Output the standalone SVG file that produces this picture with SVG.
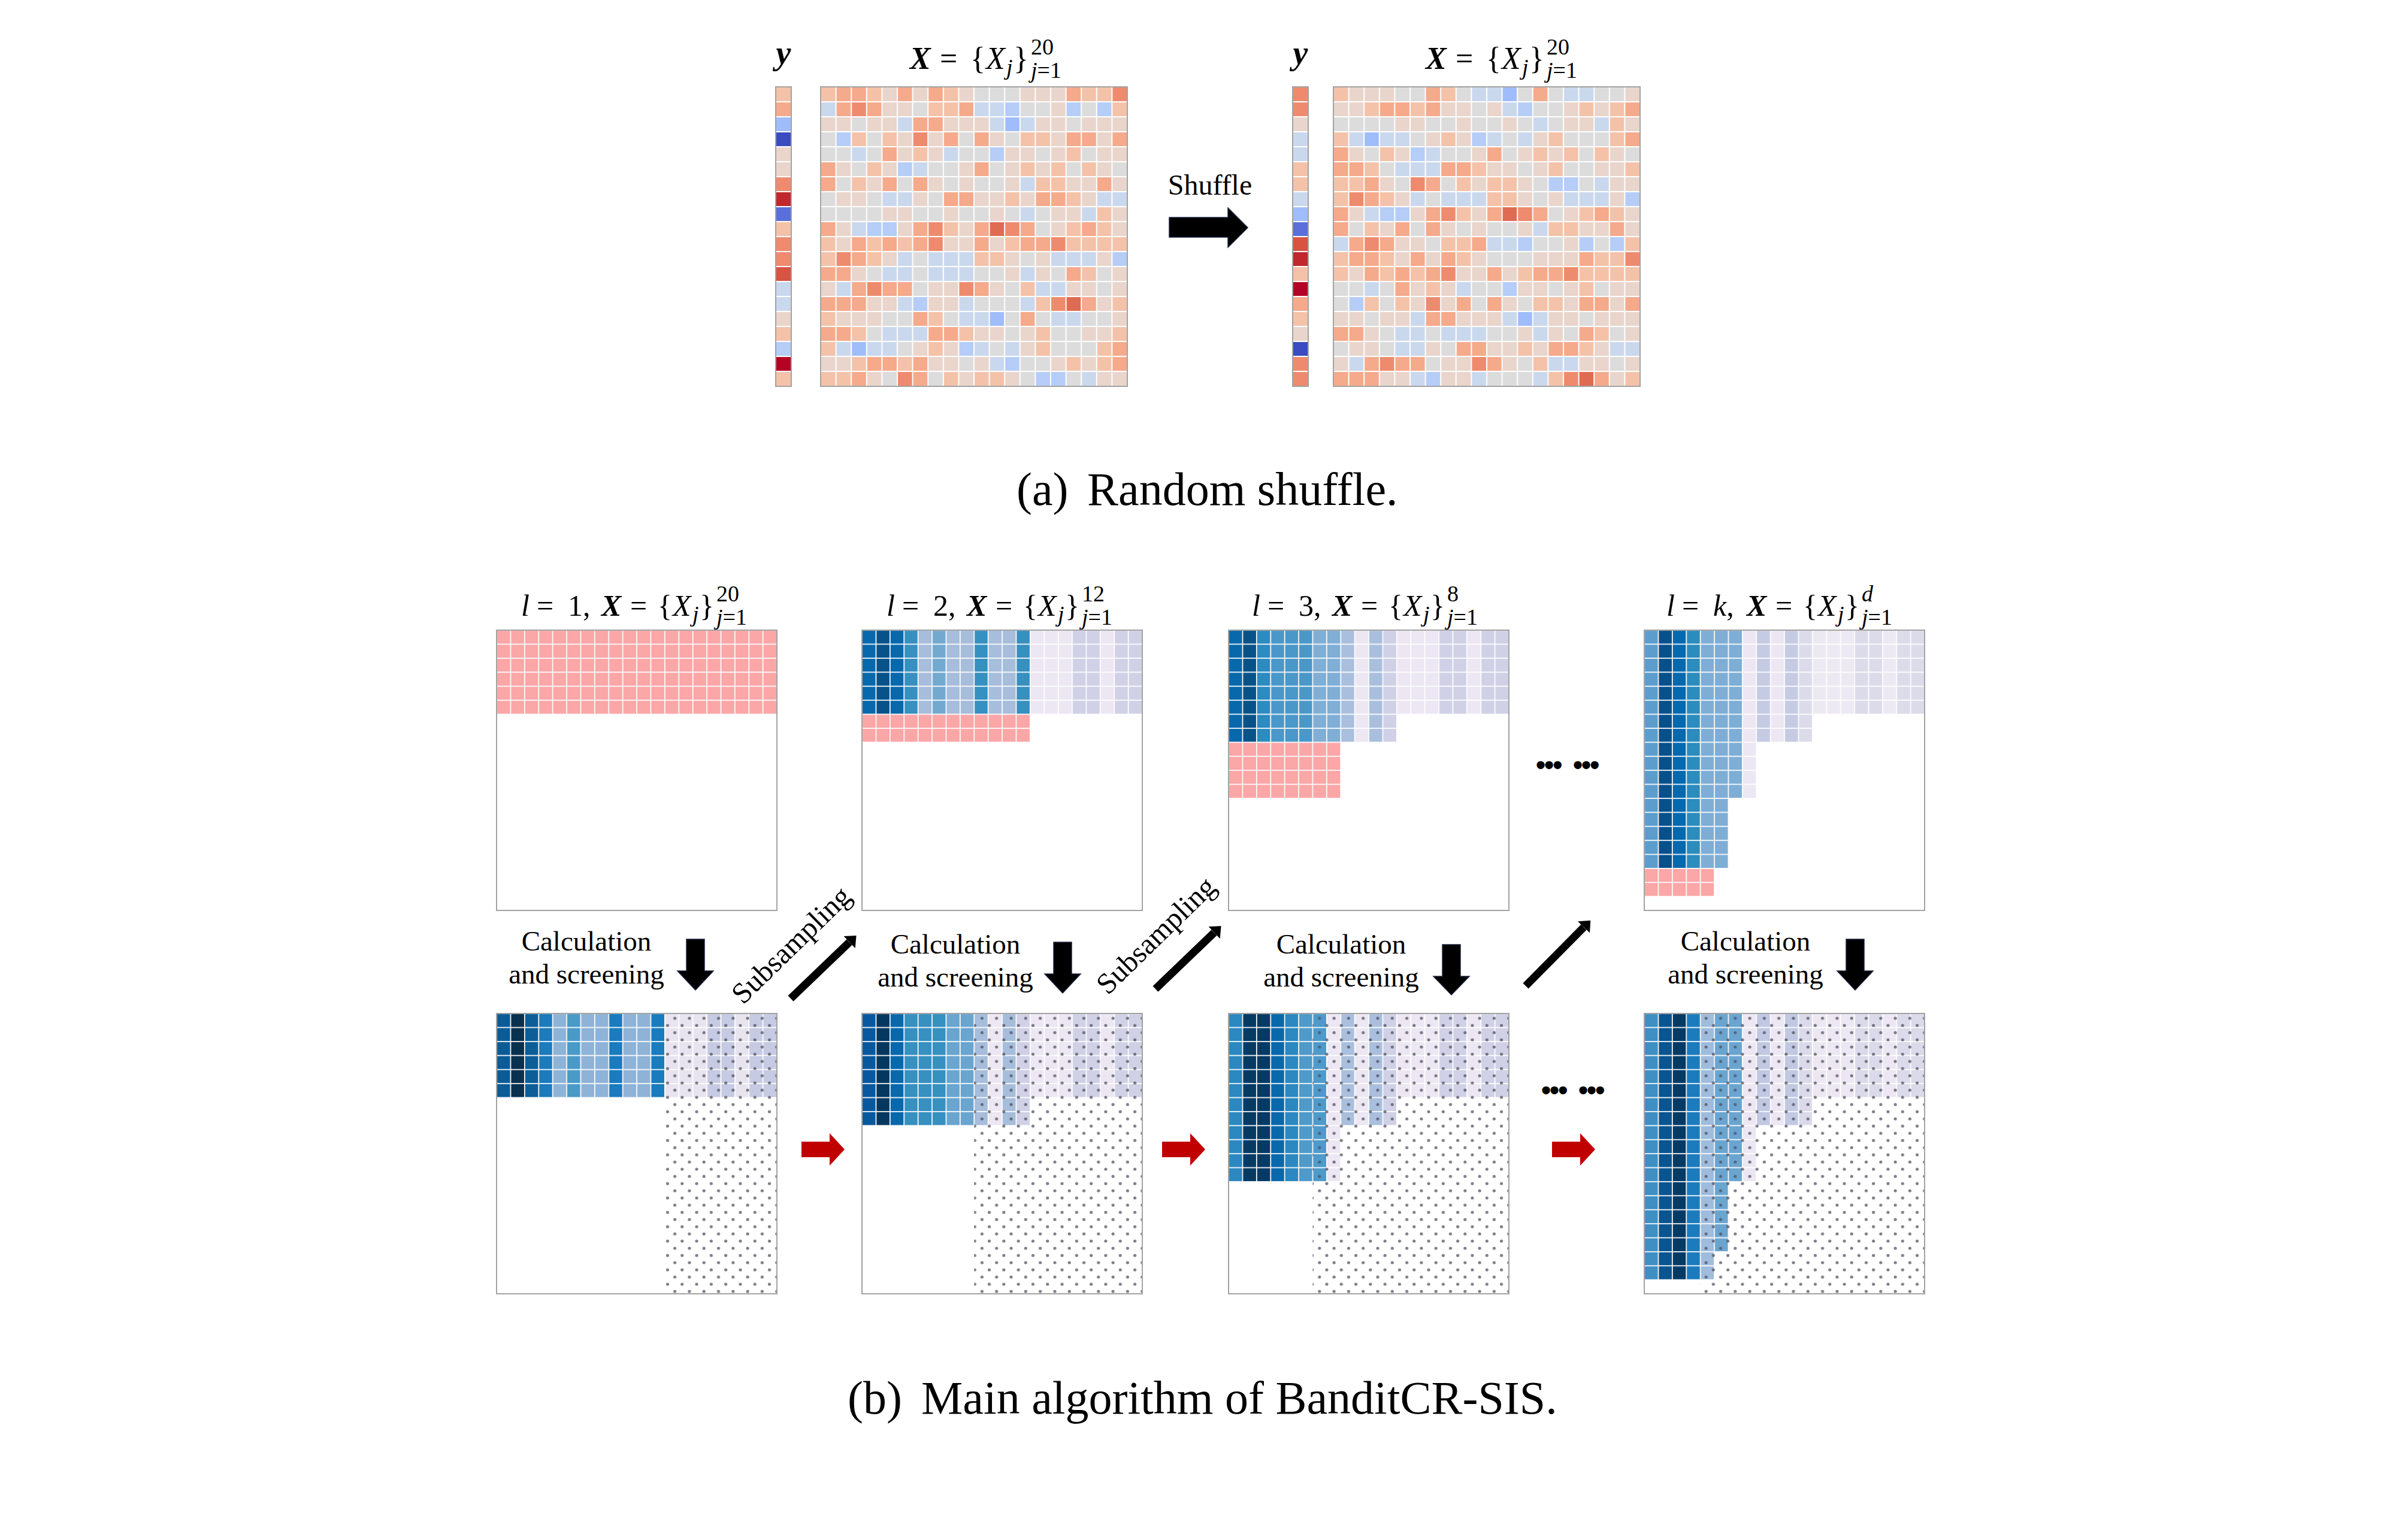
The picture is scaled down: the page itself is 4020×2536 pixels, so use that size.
<svg xmlns="http://www.w3.org/2000/svg" xmlns:xlink="http://www.w3.org/1999/xlink" width="4020" height="2536" viewBox="0 0 4020 2536">
<style>
text{font-family:"Liberation Serif","Times New Roman",serif;fill:#000}
.ma{font-size:52px}
.mb{font-size:50px}
.it{font-style:italic}
.bi{font-style:italic;font-weight:bold}
.sm{font-size:38px}
.calc{font-size:47px;text-anchor:middle}
.cap{font-size:78px}
.dots{font-family:"Liberation Sans",Arial,sans-serif;font-weight:bold;font-size:46px;letter-spacing:-2px}
.frame{fill:none;stroke:#a3a3a3;stroke-width:2}
.dn{fill:#000;stroke:#1b2440;stroke-width:1.5}
.red{fill:#c00000}
.diag{stroke:#000;stroke-width:13;fill:none;marker-end:url(#ah)}
.p,.s,.t,.o,.r,.l,.m,.b,.yb,.yr,.yd,.ye,.yx{width:1px;height:1px}
.p{fill:#f4c2a9}.s{fill:#f5aa8b}.t{fill:#e9d5cb}.o{fill:#ee8b6e}.r{fill:#e06b53}
.l{fill:#cad8ee}.m{fill:#b5cdf7}.b{fill:#9fbdfa}
.yb{fill:#3b4cc0}.yr{fill:#c0282d}.yd{fill:#5a6fd9}.ye{fill:#d75442}.yx{fill:#b40426}
.pk{fill:#fba6a7}.v1{fill:#ece7f2}.v2{fill:#d0d1e6}
</style>
<defs>
<pattern id="gA" patternUnits="userSpaceOnUse" x="-1" y="-1" width="25.6" height="25"><rect width="25.6" height="2" fill="#fff"/><rect width="2" height="25" fill="#fff"/></pattern>
<pattern id="gH" patternUnits="userSpaceOnUse" x="0" y="-1" width="26" height="25"><rect width="26" height="2" fill="#fff"/></pattern>
<pattern id="grid" patternUnits="userSpaceOnUse" x="-0.85" y="-0.85" width="23.4" height="23.4"><rect width="23.4" height="1.7" fill="#fff"/><rect width="1.7" height="23.4" fill="#fff"/></pattern>
<pattern id="dots" patternUnits="userSpaceOnUse" width="24.3" height="24" x="0" y="0"><circle cx="6" cy="8" r="2.6" fill="#4e4e5c" fill-opacity="0.72"/><circle cx="18.15" cy="20" r="2.6" fill="#4e4e5c" fill-opacity="0.72"/></pattern>
<marker id="ah" markerUnits="userSpaceOnUse" markerWidth="17" markerHeight="30" viewBox="0 -15 17 30" refX="0" refY="0" orient="auto"><path d="M0,-14L16,0L0,14Z" fill="#000"/></marker>
<g id="r0"><rect class="p"/><rect x="1" class="s"/><rect x="2" class="s"/><rect x="3" class="p"/><rect x="4" class="t"/><rect x="5" class="s"/><rect x="6" class="t"/><rect x="7" class="s"/><rect x="8" class="p"/><rect x="9" class="t"/><rect x="13" class="t"/><rect x="14" class="t"/><rect x="15" class="t"/><rect x="16" class="s"/><rect x="17" class="p"/><rect x="18" class="p"/><rect x="19" class="o"/></g>
<g id="r1"><rect class="l"/><rect x="1" class="s"/><rect x="2" class="o"/><rect x="3" class="s"/><rect x="4" class="t"/><rect x="5" class="t"/><rect x="7" class="p"/><rect x="8" class="p"/><rect x="9" class="s"/><rect x="10" class="l"/><rect x="11" class="l"/><rect x="12" class="m"/><rect x="15" class="t"/><rect x="16" class="m"/><rect x="18" class="m"/><rect x="19" class="p"/></g>
<g id="r2"><rect class="t"/><rect x="1" class="t"/><rect x="3" class="t"/><rect x="4" class="t"/><rect x="5" class="l"/><rect x="6" class="s"/><rect x="7" class="s"/><rect x="8" class="t"/><rect x="9" class="t"/><rect x="10" class="t"/><rect x="11" class="l"/><rect x="12" class="b"/><rect x="13" class="l"/><rect x="14" class="t"/><rect x="15" class="t"/><rect x="17" class="t"/><rect x="18" class="t"/><rect x="19" class="t"/></g>
<g id="r3"><rect x="1" class="m"/><rect x="2" class="p"/><rect x="4" class="p"/><rect x="5" class="t"/><rect x="6" class="o"/><rect x="7" class="t"/><rect x="8" class="s"/><rect x="10" class="s"/><rect x="11" class="t"/><rect x="13" class="p"/><rect x="14" class="p"/><rect x="15" class="t"/><rect x="16" class="s"/><rect x="17" class="s"/><rect x="18" class="t"/><rect x="19" class="s"/></g>
<g id="r4"><rect x="2" class="l"/><rect x="4" class="s"/><rect x="5" class="t"/><rect x="6" class="p"/><rect x="7" class="t"/><rect x="8" class="l"/><rect x="11" class="m"/><rect x="12" class="t"/><rect x="13" class="t"/><rect x="15" class="t"/><rect x="16" class="p"/><rect x="18" class="t"/><rect x="19" class="t"/></g>
<g id="r5"><rect class="s"/><rect x="1" class="t"/><rect x="3" class="p"/><rect x="4" class="t"/><rect x="5" class="m"/><rect x="6" class="l"/><rect x="9" class="t"/><rect x="10" class="s"/><rect x="12" class="t"/><rect x="13" class="p"/><rect x="14" class="t"/><rect x="15" class="p"/><rect x="17" class="p"/><rect x="18" class="t"/></g>
<g id="r6"><rect class="s"/><rect x="2" class="p"/><rect x="3" class="t"/><rect x="4" class="s"/><rect x="6" class="s"/><rect x="7" class="t"/><rect x="9" class="t"/><rect x="12" class="t"/><rect x="13" class="l"/><rect x="14" class="p"/><rect x="15" class="p"/><rect x="16" class="t"/><rect x="17" class="t"/><rect x="18" class="s"/><rect x="19" class="t"/></g>
<g id="r7"><rect x="1" class="t"/><rect x="2" class="t"/><rect x="4" class="l"/><rect x="5" class="l"/><rect x="6" class="t"/><rect x="8" class="s"/><rect x="9" class="s"/><rect x="10" class="t"/><rect x="11" class="t"/><rect x="12" class="p"/><rect x="13" class="t"/><rect x="14" class="s"/><rect x="15" class="s"/><rect x="16" class="p"/><rect x="17" class="t"/><rect x="18" class="l"/><rect x="19" class="l"/></g>
<g id="r8"><rect x="4" class="t"/><rect x="5" class="t"/><rect x="8" class="t"/><rect x="11" class="t"/><rect x="13" class="l"/><rect x="15" class="t"/><rect x="16" class="t"/><rect x="17" class="l"/><rect x="18" class="p"/><rect x="19" class="t"/></g>
<g id="r9"><rect class="s"/><rect x="1" class="t"/><rect x="2" class="l"/><rect x="3" class="m"/><rect x="4" class="m"/><rect x="5" class="t"/><rect x="6" class="s"/><rect x="7" class="o"/><rect x="8" class="p"/><rect x="9" class="t"/><rect x="10" class="s"/><rect x="11" class="r"/><rect x="12" class="o"/><rect x="13" class="s"/><rect x="15" class="t"/><rect x="16" class="p"/><rect x="17" class="s"/><rect x="18" class="p"/><rect x="19" class="t"/></g>
<g id="r10"><rect class="p"/><rect x="1" class="t"/><rect x="2" class="s"/><rect x="3" class="p"/><rect x="4" class="s"/><rect x="5" class="p"/><rect x="6" class="s"/><rect x="7" class="o"/><rect x="8" class="t"/><rect x="9" class="t"/><rect x="10" class="s"/><rect x="11" class="t"/><rect x="12" class="p"/><rect x="13" class="s"/><rect x="14" class="s"/><rect x="15" class="o"/><rect x="16" class="p"/><rect x="17" class="p"/><rect x="18" class="p"/><rect x="19" class="p"/></g>
<g id="r11"><rect class="p"/><rect x="1" class="o"/><rect x="2" class="s"/><rect x="3" class="p"/><rect x="4" class="t"/><rect x="5" class="l"/><rect x="7" class="l"/><rect x="8" class="l"/><rect x="9" class="l"/><rect x="10" class="p"/><rect x="11" class="p"/><rect x="12" class="t"/><rect x="14" class="t"/><rect x="15" class="l"/><rect x="16" class="l"/><rect x="17" class="l"/><rect x="18" class="t"/><rect x="19" class="m"/></g>
<g id="r12"><rect class="s"/><rect x="1" class="s"/><rect x="2" class="t"/><rect x="4" class="l"/><rect x="5" class="l"/><rect x="7" class="l"/><rect x="8" class="l"/><rect x="9" class="l"/><rect x="12" class="t"/><rect x="13" class="l"/><rect x="14" class="t"/><rect x="16" class="s"/><rect x="17" class="p"/><rect x="19" class="t"/></g>
<g id="r13"><rect class="t"/><rect x="1" class="l"/><rect x="2" class="s"/><rect x="3" class="o"/><rect x="4" class="s"/><rect x="5" class="s"/><rect x="7" class="t"/><rect x="8" class="t"/><rect x="9" class="o"/><rect x="10" class="s"/><rect x="11" class="t"/><rect x="13" class="p"/><rect x="14" class="l"/><rect x="15" class="l"/><rect x="16" class="t"/><rect x="17" class="t"/><rect x="19" class="t"/></g>
<g id="r14"><rect class="s"/><rect x="1" class="s"/><rect x="2" class="s"/><rect x="3" class="t"/><rect x="4" class="t"/><rect x="5" class="l"/><rect x="6" class="m"/><rect x="7" class="t"/><rect x="8" class="t"/><rect x="9" class="l"/><rect x="13" class="l"/><rect x="14" class="p"/><rect x="15" class="o"/><rect x="16" class="r"/><rect x="17" class="s"/><rect x="18" class="t"/><rect x="19" class="p"/></g>
<g id="r15"><rect class="p"/><rect x="1" class="t"/><rect x="2" class="t"/><rect x="3" class="t"/><rect x="6" class="s"/><rect x="7" class="p"/><rect x="9" class="l"/><rect x="10" class="l"/><rect x="11" class="b"/><rect x="13" class="s"/><rect x="15" class="l"/><rect x="16" class="l"/><rect x="19" class="t"/></g>
<g id="r16"><rect class="s"/><rect x="1" class="s"/><rect x="2" class="p"/><rect x="4" class="l"/><rect x="5" class="l"/><rect x="6" class="l"/><rect x="7" class="s"/><rect x="8" class="s"/><rect x="9" class="p"/><rect x="10" class="t"/><rect x="11" class="t"/><rect x="13" class="t"/><rect x="14" class="p"/><rect x="17" class="t"/><rect x="18" class="t"/><rect x="19" class="p"/></g>
<g id="r17"><rect class="p"/><rect x="1" class="l"/><rect x="2" class="b"/><rect x="3" class="l"/><rect x="4" class="l"/><rect x="6" class="t"/><rect x="7" class="p"/><rect x="8" class="t"/><rect x="9" class="m"/><rect x="10" class="l"/><rect x="12" class="l"/><rect x="13" class="t"/><rect x="14" class="p"/><rect x="18" class="p"/><rect x="19" class="s"/></g>
<g id="r18"><rect class="t"/><rect x="1" class="t"/><rect x="2" class="p"/><rect x="3" class="s"/><rect x="4" class="s"/><rect x="5" class="p"/><rect x="6" class="s"/><rect x="7" class="t"/><rect x="8" class="t"/><rect x="10" class="t"/><rect x="11" class="l"/><rect x="12" class="m"/><rect x="15" class="t"/><rect x="16" class="p"/><rect x="17" class="t"/><rect x="18" class="p"/><rect x="19" class="s"/></g>
<g id="r19"><rect class="p"/><rect x="1" class="p"/><rect x="2" class="s"/><rect x="3" class="t"/><rect x="5" class="o"/><rect x="6" class="s"/><rect x="8" class="p"/><rect x="9" class="t"/><rect x="10" class="p"/><rect x="11" class="p"/><rect x="12" class="t"/><rect x="14" class="m"/><rect x="15" class="m"/><rect x="17" class="l"/><rect x="18" class="t"/><rect x="19" class="t"/></g>
</defs>
<rect width="4020" height="2536" fill="#fff"/>

<g id="a-original">
<text class="bi" x="1308" y="107" font-size="56" text-anchor="middle">y</text>
<text class="ma" y="115"><tspan x="1519" class="bi">X</tspan><tspan x="1569">=</tspan><tspan x="1620">{</tspan><tspan x="1646" class="it">X</tspan><tspan x="1680" y="125" class="it sm">j</tspan><tspan x="1692" y="115">}</tspan><tspan x="1721" y="91" class="sm">20</tspan><tspan x="1721" y="130" class="sm"><tspan class="it">j</tspan>=1</tspan></text>
<g transform="translate(1295,145) scale(26,25)"><rect class="p"/><rect y="1" class="s"/><rect y="2" class="b"/><rect y="3" class="yb"/><rect y="4" class="t"/><rect y="5" class="t"/><rect y="6" class="o"/><rect y="7" class="yr"/><rect y="8" class="yd"/><rect y="9" class="p"/><rect y="10" class="o"/><rect y="11" class="o"/><rect y="12" class="ye"/><rect y="13" class="l"/><rect y="14" class="l"/><rect y="15" class="t"/><rect y="16" class="p"/><rect y="17" class="m"/><rect y="18" class="yx"/><rect y="19" class="p"/></g>
<g transform="translate(1295,145)"><rect width="26" height="500" fill="url(#gH)"/><rect width="26" height="500" class="frame"/></g>
<g transform="translate(1370,145) scale(25.6,25)"><rect width="20" height="20" fill="#dcdcdc"/><use href="#r0"/><use href="#r1" y="1"/><use href="#r2" y="2"/><use href="#r3" y="3"/><use href="#r4" y="4"/><use href="#r5" y="5"/><use href="#r6" y="6"/><use href="#r7" y="7"/><use href="#r8" y="8"/><use href="#r9" y="9"/><use href="#r10" y="10"/><use href="#r11" y="11"/><use href="#r12" y="12"/><use href="#r13" y="13"/><use href="#r14" y="14"/><use href="#r15" y="15"/><use href="#r16" y="16"/><use href="#r17" y="17"/><use href="#r18" y="18"/><use href="#r19" y="19"/></g>
<g transform="translate(1370,145)"><rect width="512" height="500" fill="url(#gA)"/><rect width="512" height="500" class="frame"/></g>
</g>

<g id="a-shuffled">
<text class="bi" x="2171" y="107" font-size="56" text-anchor="middle">y</text>
<text class="ma" y="115"><tspan x="2380" class="bi">X</tspan><tspan x="2430">=</tspan><tspan x="2481">{</tspan><tspan x="2507" class="it">X</tspan><tspan x="2541" y="125" class="it sm">j</tspan><tspan x="2553" y="115">}</tspan><tspan x="2582" y="91" class="sm">20</tspan><tspan x="2582" y="130" class="sm"><tspan class="it">j</tspan>=1</tspan></text>
<g transform="translate(2158,145) scale(26,25)"><rect class="o"/><rect y="1" class="o"/><rect y="2" class="t"/><rect y="3" class="l"/><rect y="4" class="l"/><rect y="5" class="p"/><rect y="6" class="p"/><rect y="7" class="l"/><rect y="8" class="b"/><rect y="9" class="yd"/><rect y="10" class="ye"/><rect y="11" class="yr"/><rect y="12" class="p"/><rect y="13" class="yx"/><rect y="14" class="s"/><rect y="15" class="p"/><rect y="16" class="t"/><rect y="17" class="yb"/><rect y="18" class="o"/><rect y="19" class="o"/></g>
<g transform="translate(2158,145)"><rect width="26" height="500" fill="url(#gH)"/><rect width="26" height="500" class="frame"/></g>
<g transform="translate(2226,145) scale(25.6,25)"><rect width="20" height="20" fill="#dcdcdc"/><use href="#r15"/><use href="#r18" y="1"/><use href="#r8" y="2"/><use href="#r17" y="3"/><use href="#r5" y="4"/><use href="#r16" y="5"/><use href="#r19" y="6"/><use href="#r11" y="7"/><use href="#r9" y="8"/><use href="#r6" y="9"/><use href="#r1" y="10"/><use href="#r0" y="11"/><use href="#r10" y="12"/><use href="#r4" y="13"/><use href="#r3" y="14"/><use href="#r2" y="15"/><use href="#r12" y="16"/><use href="#r7" y="17"/><use href="#r13" y="18"/><use href="#r14" y="19"/></g>
<g transform="translate(2226,145)"><rect width="512" height="500" fill="url(#gA)"/><rect width="512" height="500" class="frame"/></g>
</g>

<g id="step1-input">
<text class="mb" y="1028"><tspan x="870" class="it">l</tspan><tspan x="896">=</tspan><tspan x="948">1,</tspan><tspan x="1004" class="bi">X</tspan><tspan x="1052">=</tspan><tspan x="1098">{</tspan><tspan x="1123" class="it">X</tspan><tspan x="1156" y="1038" class="it sm">j</tspan><tspan x="1168" y="1028">}</tspan><tspan x="1196" y="1004" class="sm">20</tspan><tspan x="1196" y="1043" class="sm"><tspan class="it">j</tspan>=1</tspan></text>
<g transform="translate(829,1052)">
<rect width="468" height="140.4" class="pk"/>
<rect width="468" height="468" fill="url(#grid)"/>
<rect width="468" height="468" class="frame"/>
</g>
</g>

<g id="step2-input">
<text class="mb" y="1028"><tspan x="1480" class="it">l</tspan><tspan x="1506">=</tspan><tspan x="1558">2,</tspan><tspan x="1614" class="bi">X</tspan><tspan x="1662">=</tspan><tspan x="1708">{</tspan><tspan x="1733" class="it">X</tspan><tspan x="1766" y="1038" class="it sm">j</tspan><tspan x="1778" y="1028">}</tspan><tspan x="1806" y="1004" class="sm">12</tspan><tspan x="1806" y="1043" class="sm"><tspan class="it">j</tspan>=1</tspan></text>
<g transform="translate(1439,1052)">
<rect x="0" width="23.4" height="140.4" fill="#0868ac"/><rect x="23.4" width="23.4" height="140.4" fill="#075389"/><rect x="46.8" width="23.4" height="140.4" fill="#0868ac"/><rect x="70.2" width="23.4" height="140.4" fill="#3690c0"/><rect x="93.6" width="23.4" height="140.4" fill="#a6bddb"/><rect x="117" width="23.4" height="140.4" fill="#74a9cf"/><rect x="140.4" width="46.8" height="140.4" fill="#a6bddb"/><rect x="187.2" width="23.4" height="140.4" fill="#3690c0"/><rect x="210.6" width="46.8" height="140.4" fill="#a6bddb"/><rect x="257.4" width="23.4" height="140.4" fill="#3690c0"/>
<rect x="280.8" width="70.2" height="140.4" class="v1"/><rect x="351" width="46.8" height="140.4" class="v2"/><rect x="397.8" width="23.4" height="140.4" class="v1"/><rect x="421.2" width="46.8" height="140.4" class="v2"/>
<rect y="140.4" width="280.8" height="46.8" class="pk"/>
<rect width="468" height="468" fill="url(#grid)"/>
<rect width="468" height="468" class="frame"/>
</g>
</g>

<g id="step3-input">
<text class="mb" y="1028"><tspan x="2090" class="it">l</tspan><tspan x="2116">=</tspan><tspan x="2168">3,</tspan><tspan x="2224" class="bi">X</tspan><tspan x="2272">=</tspan><tspan x="2318">{</tspan><tspan x="2343" class="it">X</tspan><tspan x="2376" y="1038" class="it sm">j</tspan><tspan x="2388" y="1028">}</tspan><tspan x="2416" y="1004" class="sm">8</tspan><tspan x="2416" y="1043" class="sm"><tspan class="it">j</tspan>=1</tspan></text>
<g transform="translate(2051,1052)">
<rect x="0" width="23.4" height="187.2" fill="#0868ac"/><rect x="23.4" width="23.4" height="187.2" fill="#075389"/><rect x="46.8" width="23.4" height="187.2" fill="#2b8cbe"/><rect x="70.2" width="70.2" height="187.2" fill="#4a98c9"/><rect x="140.4" width="46.8" height="187.2" fill="#80aed5"/><rect x="187.2" width="23.4" height="187.2" fill="#a9bfdd"/><rect x="210.6" width="23.4" height="187.2" class="v1"/><rect x="234" width="23.4" height="187.2" fill="#a9bfdd"/><rect x="257.4" width="23.4" height="187.2" class="v2"/>
<rect x="280.8" width="70.2" height="140.4" class="v1"/><rect x="351" width="46.8" height="140.4" class="v2"/><rect x="397.8" width="23.4" height="140.4" class="v1"/><rect x="421.2" width="46.8" height="140.4" class="v2"/>
<rect y="187.2" width="187.2" height="93.6" class="pk"/>
<rect width="468" height="468" fill="url(#grid)"/>
<rect width="468" height="468" class="frame"/>
</g>
</g>

<g id="stepk-input">
<text class="mb" y="1028"><tspan x="2782" class="it">l</tspan><tspan x="2808">=</tspan><tspan x="2860"><tspan class="it">k</tspan>,</tspan><tspan x="2916" class="bi">X</tspan><tspan x="2964">=</tspan><tspan x="3010">{</tspan><tspan x="3035" class="it">X</tspan><tspan x="3068" y="1038" class="it sm">j</tspan><tspan x="3080" y="1028">}</tspan><tspan x="3108" y="1004" class="sm it">d</tspan><tspan x="3108" y="1043" class="sm"><tspan class="it">j</tspan>=1</tspan></text>
<g transform="translate(2745,1052)">
<rect x="0" width="23.4" height="397.8" fill="#5b9dcc"/><rect x="23.4" width="23.4" height="397.8" fill="#08508a"/><rect x="46.8" width="23.4" height="397.8" fill="#0868ac"/><rect x="70.2" width="23.4" height="397.8" fill="#2b8cbe"/><rect x="93.6" width="46.8" height="397.8" fill="#7eaed5"/><rect x="140.4" width="23.4" height="280.8" fill="#7eaed5"/><rect x="163.8" width="23.4" height="280.8" class="v1"/>
<rect x="187.2" width="23.4" height="187.2" fill="#c5cbe2"/><rect x="210.6" width="23.4" height="187.2" class="v1"/><rect x="234" width="23.4" height="187.2" fill="#c5cbe2"/><rect x="257.4" width="23.4" height="187.2" fill="#dcdbea"/>
<rect x="280.8" width="70.2" height="140.4" fill="#ede9f2"/><rect x="351" width="46.8" height="140.4" fill="#dcdbea"/><rect x="397.8" width="23.4" height="140.4" fill="#ede9f2"/><rect x="421.2" width="46.8" height="140.4" fill="#dcdbea"/>
<rect y="397.8" width="117" height="46.8" class="pk"/>
<rect width="468" height="468" fill="url(#grid)"/>
<rect width="468" height="468" class="frame"/>
</g>
</g>

<g id="step1-screened">
<text class="calc" x="979" y="1587">Calculation</text>
<text class="calc" x="979" y="1642">and screening</text>
<g transform="translate(829,1692)">
<rect x="0" width="23.4" height="140.4" fill="#0b5c96"/><rect x="23.4" width="23.4" height="140.4" fill="#08304f"/><rect x="46.8" width="23.4" height="140.4" fill="#0b5e98"/><rect x="70.2" width="23.4" height="140.4" fill="#1a7bbd"/><rect x="93.6" width="23.4" height="140.4" fill="#8fb3d6"/><rect x="117" width="23.4" height="140.4" fill="#4a9ac8"/><rect x="140.4" width="46.8" height="140.4" fill="#8fb3d6"/><rect x="187.2" width="23.4" height="140.4" fill="#1a7bbd"/><rect x="210.6" width="46.8" height="140.4" fill="#8fb3d6"/><rect x="257.4" width="23.4" height="140.4" fill="#1a7bbd"/>
<rect x="280.8" width="70.2" height="140.4" fill="#e8e4ef"/><rect x="351" width="46.8" height="140.4" fill="#c6cae2"/><rect x="397.8" width="23.4" height="140.4" fill="#e8e4ef"/><rect x="421.2" width="46.8" height="140.4" fill="#c6cae2"/>
<rect width="468" height="468" fill="url(#grid)"/>
<rect x="280.8" width="187.2" height="468" fill="url(#dots)"/>
<rect width="468" height="468" class="frame"/>
</g>
</g>

<g id="step2-screened">
<text class="calc" x="1595" y="1592">Calculation</text>
<text class="calc" x="1595" y="1647">and screening</text>
<g transform="translate(1439,1692)">
<rect x="0" width="23.4" height="187.2" fill="#08589e"/><rect x="23.4" width="23.4" height="187.2" fill="#04385f"/><rect x="46.8" width="23.4" height="187.2" fill="#0868ac"/><rect x="70.2" width="70.2" height="187.2" fill="#3690c0"/><rect x="140.4" width="46.8" height="187.2" fill="#6aa5d0"/><rect x="187.2" width="23.4" height="187.2" fill="#a6bddb"/><rect x="210.6" width="23.4" height="187.2" class="v1"/><rect x="234" width="23.4" height="187.2" fill="#a6bddb"/><rect x="257.4" width="23.4" height="187.2" class="v2"/>
<rect x="280.8" width="70.2" height="140.4" class="v1"/><rect x="351" width="46.8" height="140.4" class="v2"/><rect x="397.8" width="23.4" height="140.4" class="v1"/><rect x="421.2" width="46.8" height="140.4" class="v2"/>
<rect width="468" height="468" fill="url(#grid)"/>
<rect x="187.2" width="280.8" height="468" fill="url(#dots)"/>
<rect width="468" height="468" class="frame"/>
</g>
</g>

<g id="step3-screened">
<text class="calc" x="2239" y="1592">Calculation</text>
<text class="calc" x="2239" y="1647">and screening</text>
<g transform="translate(2051,1692)">
<rect x="0" width="23.4" height="280.8" fill="#2b88c0"/><rect x="23.4" width="46.8" height="280.8" fill="#053a63"/><rect x="70.2" width="23.4" height="280.8" fill="#0868ac"/><rect x="93.6" width="23.4" height="280.8" fill="#2b88c0"/><rect x="117" width="46.8" height="280.8" fill="#4e9acb"/><rect x="163.8" width="23.4" height="280.8" class="v1"/>
<rect x="187.2" width="23.4" height="187.2" fill="#a9bfdd"/><rect x="210.6" width="23.4" height="187.2" class="v1"/><rect x="234" width="23.4" height="187.2" fill="#a9bfdd"/><rect x="257.4" width="23.4" height="187.2" class="v2"/>
<rect x="280.8" width="70.2" height="140.4" class="v1"/><rect x="351" width="46.8" height="140.4" class="v2"/><rect x="397.8" width="23.4" height="140.4" class="v1"/><rect x="421.2" width="46.8" height="140.4" class="v2"/>
<rect width="468" height="468" fill="url(#grid)"/>
<rect x="140.4" width="327.6" height="468" fill="url(#dots)"/>
<rect width="468" height="468" class="frame"/>
</g>
</g>

<g id="stepk-screened">
<text class="calc" x="2914" y="1587">Calculation</text>
<text class="calc" x="2914" y="1642">and screening</text>
<g transform="translate(2745,1692)">
<rect x="0" width="23.4" height="444.6" fill="#3d8fc4"/><rect x="23.4" width="23.4" height="444.6" fill="#0a5590"/><rect x="46.8" width="23.4" height="444.6" fill="#053a63"/><rect x="70.2" width="23.4" height="444.6" fill="#1a7cbf"/><rect x="93.6" width="23.4" height="444.6" fill="#a0bcdc"/><rect x="117" width="23.4" height="397.8" fill="#6aa5d0"/><rect x="140.4" width="23.4" height="280.8" fill="#6aa5d0"/><rect x="163.8" width="23.4" height="280.8" class="v1"/>
<rect x="187.2" width="23.4" height="187.2" fill="#c0c8e2"/><rect x="210.6" width="23.4" height="187.2" class="v1"/><rect x="234" width="23.4" height="187.2" fill="#c0c8e2"/><rect x="257.4" width="23.4" height="187.2" fill="#dadaea"/>
<rect x="280.8" width="70.2" height="140.4" class="v1"/><rect x="351" width="46.8" height="140.4" fill="#dadaea"/><rect x="397.8" width="23.4" height="140.4" class="v1"/><rect x="421.2" width="46.8" height="140.4" fill="#dadaea"/>
<rect width="468" height="468" fill="url(#grid)"/>
<rect x="93.6" width="374.4" height="468" fill="url(#dots)"/>
<rect width="468" height="468" class="frame"/>
</g>
</g>

<g id="ellipsis-top"><text class="dots" x="2564" y="1293">•••</text><text class="dots" x="2626" y="1293">•••</text></g>
<g id="ellipsis-bottom"><text class="dots" x="2573" y="1836">•••</text><text class="dots" x="2635" y="1836">•••</text></g>

<g id="connectors">
<polygon class="dn" points="1952,363 2050,363 2050,347 2083,380 2050,413 2050,396 1952,396"/>
<polygon class="dn" points="1146,1568 1176,1568 1176,1621 1191,1621 1161,1653 1131,1621 1146,1621"/>
<polygon class="dn" points="1759,1573 1789,1573 1789,1626 1804,1626 1774,1658 1744,1626 1759,1626"/>
<polygon class="dn" points="2408,1577 2438,1577 2438,1630 2453,1630 2423,1661 2393,1630 2408,1630"/>
<polygon class="dn" points="3082,1568 3112,1568 3112,1621 3127,1621 3097,1653 3067,1621 3082,1621"/>
<line class="diag" x1="1320" y1="1667" x2="1418" y2="1573"/>
<line class="diag" x1="1929" y1="1651" x2="2027" y2="1557"/>
<line class="diag" x1="2547" y1="1646" x2="2644" y2="1548"/>
<polygon class="red" points="1338,1906 1385,1906 1385,1892 1410,1919 1385,1946 1385,1932 1338,1932"/>
<polygon class="red" points="1940,1906 1987,1906 1987,1892 2012,1919 1987,1946 1987,1932 1940,1932"/>
<polygon class="red" points="2591,1906 2638,1906 2638,1892 2663,1919 2638,1946 2638,1932 2591,1932"/>
<text x="2020" y="325" font-size="48" text-anchor="middle">Shuffle</text>
<text x="1332" y="1589" font-size="49" text-anchor="middle" transform="rotate(-44.3 1332 1589)">Subsampling</text>
<text x="1941" y="1573" font-size="49" text-anchor="middle" transform="rotate(-44.3 1941 1573)">Subsampling</text>
</g>

<g id="captions">
<text class="cap" x="1697" y="843">(a)</text><text class="cap" x="1815" y="843">Random shuffle.</text>
<text class="cap" x="1415" y="2360">(b)</text><text class="cap" x="1538" y="2360">Main algorithm of BanditCR-SIS.</text>
</g>
</svg>
